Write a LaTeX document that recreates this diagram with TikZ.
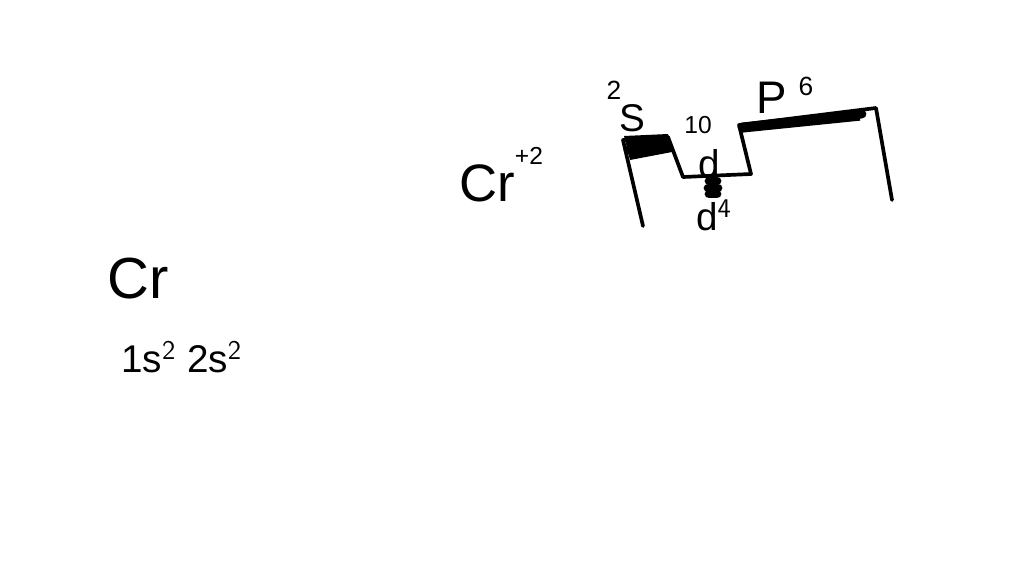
\documentclass[tikz,border=0pt]{standalone}
\usepackage{fontspec}
\setmainfont{Liberation Sans}
\begin{document}
\begin{tikzpicture}[x=0.02cm,y=-0.02cm,
  ink/.style={line width=2.1pt,line cap=round,line join=round,black},
  heavy/.style={line width=5pt,line cap=round,black},
  lbl/.style={inner sep=0pt,font=\fontsize{#1}{#1}\selectfont},
  lbl/.default=14]
\useasboundingbox[fill=white] (0,0) rectangle (1024,576);
% periodic table outline
\coordinate (a) at (643,226);
\coordinate (b) at (623,140);
\coordinate (c) at (668,137);
\coordinate (d1) at (683,177);
\coordinate (d2) at (751,174);
\coordinate (e) at (739,125);
\coordinate (f) at (876,108);
\coordinate (g) at (892,200);
\draw[ink] (a) -- (b) -- (c) -- (d1) -- (d2) -- (e) -- (f) -- (g);
% s block shading
\fill[black] (624,136) -- (668,134) -- (672,152) -- (630,160) -- cycle;
\draw[heavy] (628,150) -- (668,148);
% p block shading
\draw[heavy] (742,127) -- (862,114);
\draw[line width=3pt] (742,130) -- (860,118);
% d shading
\draw[heavy] (709,181) -- (717,181);
\draw[heavy] (708,188) -- (718,188);
\draw[heavy] (709,194) -- (717,194);
% labels
\node[lbl=15] (n2) at (614,90) {2};
\node[lbl=22] (ls) at (632,118) {S};
\node[lbl=14] (n10) at (698,125) {10};
\node[lbl=22] (ld) at (709,164) {d};
\node[lbl=22] (ld4) at (714,215) {d$^{\mathsf{4}}$};
\node[lbl=26] (lp) at (772,98) {P};
\node[lbl=15] (n6) at (806,86) {6};
\node[lbl=30] (cr2) at (487,183) {Cr};
\node[lbl=14] (sup) at (529,156) {+2};
\node[lbl=33] (cr) at (138,279) {Cr};
\node[lbl=22,anchor=west] (cfg) at (121,357) {1s$^{\mathsf{2}}$ 2s$^{\mathsf{2}}$};
\end{tikzpicture}
\end{document}
